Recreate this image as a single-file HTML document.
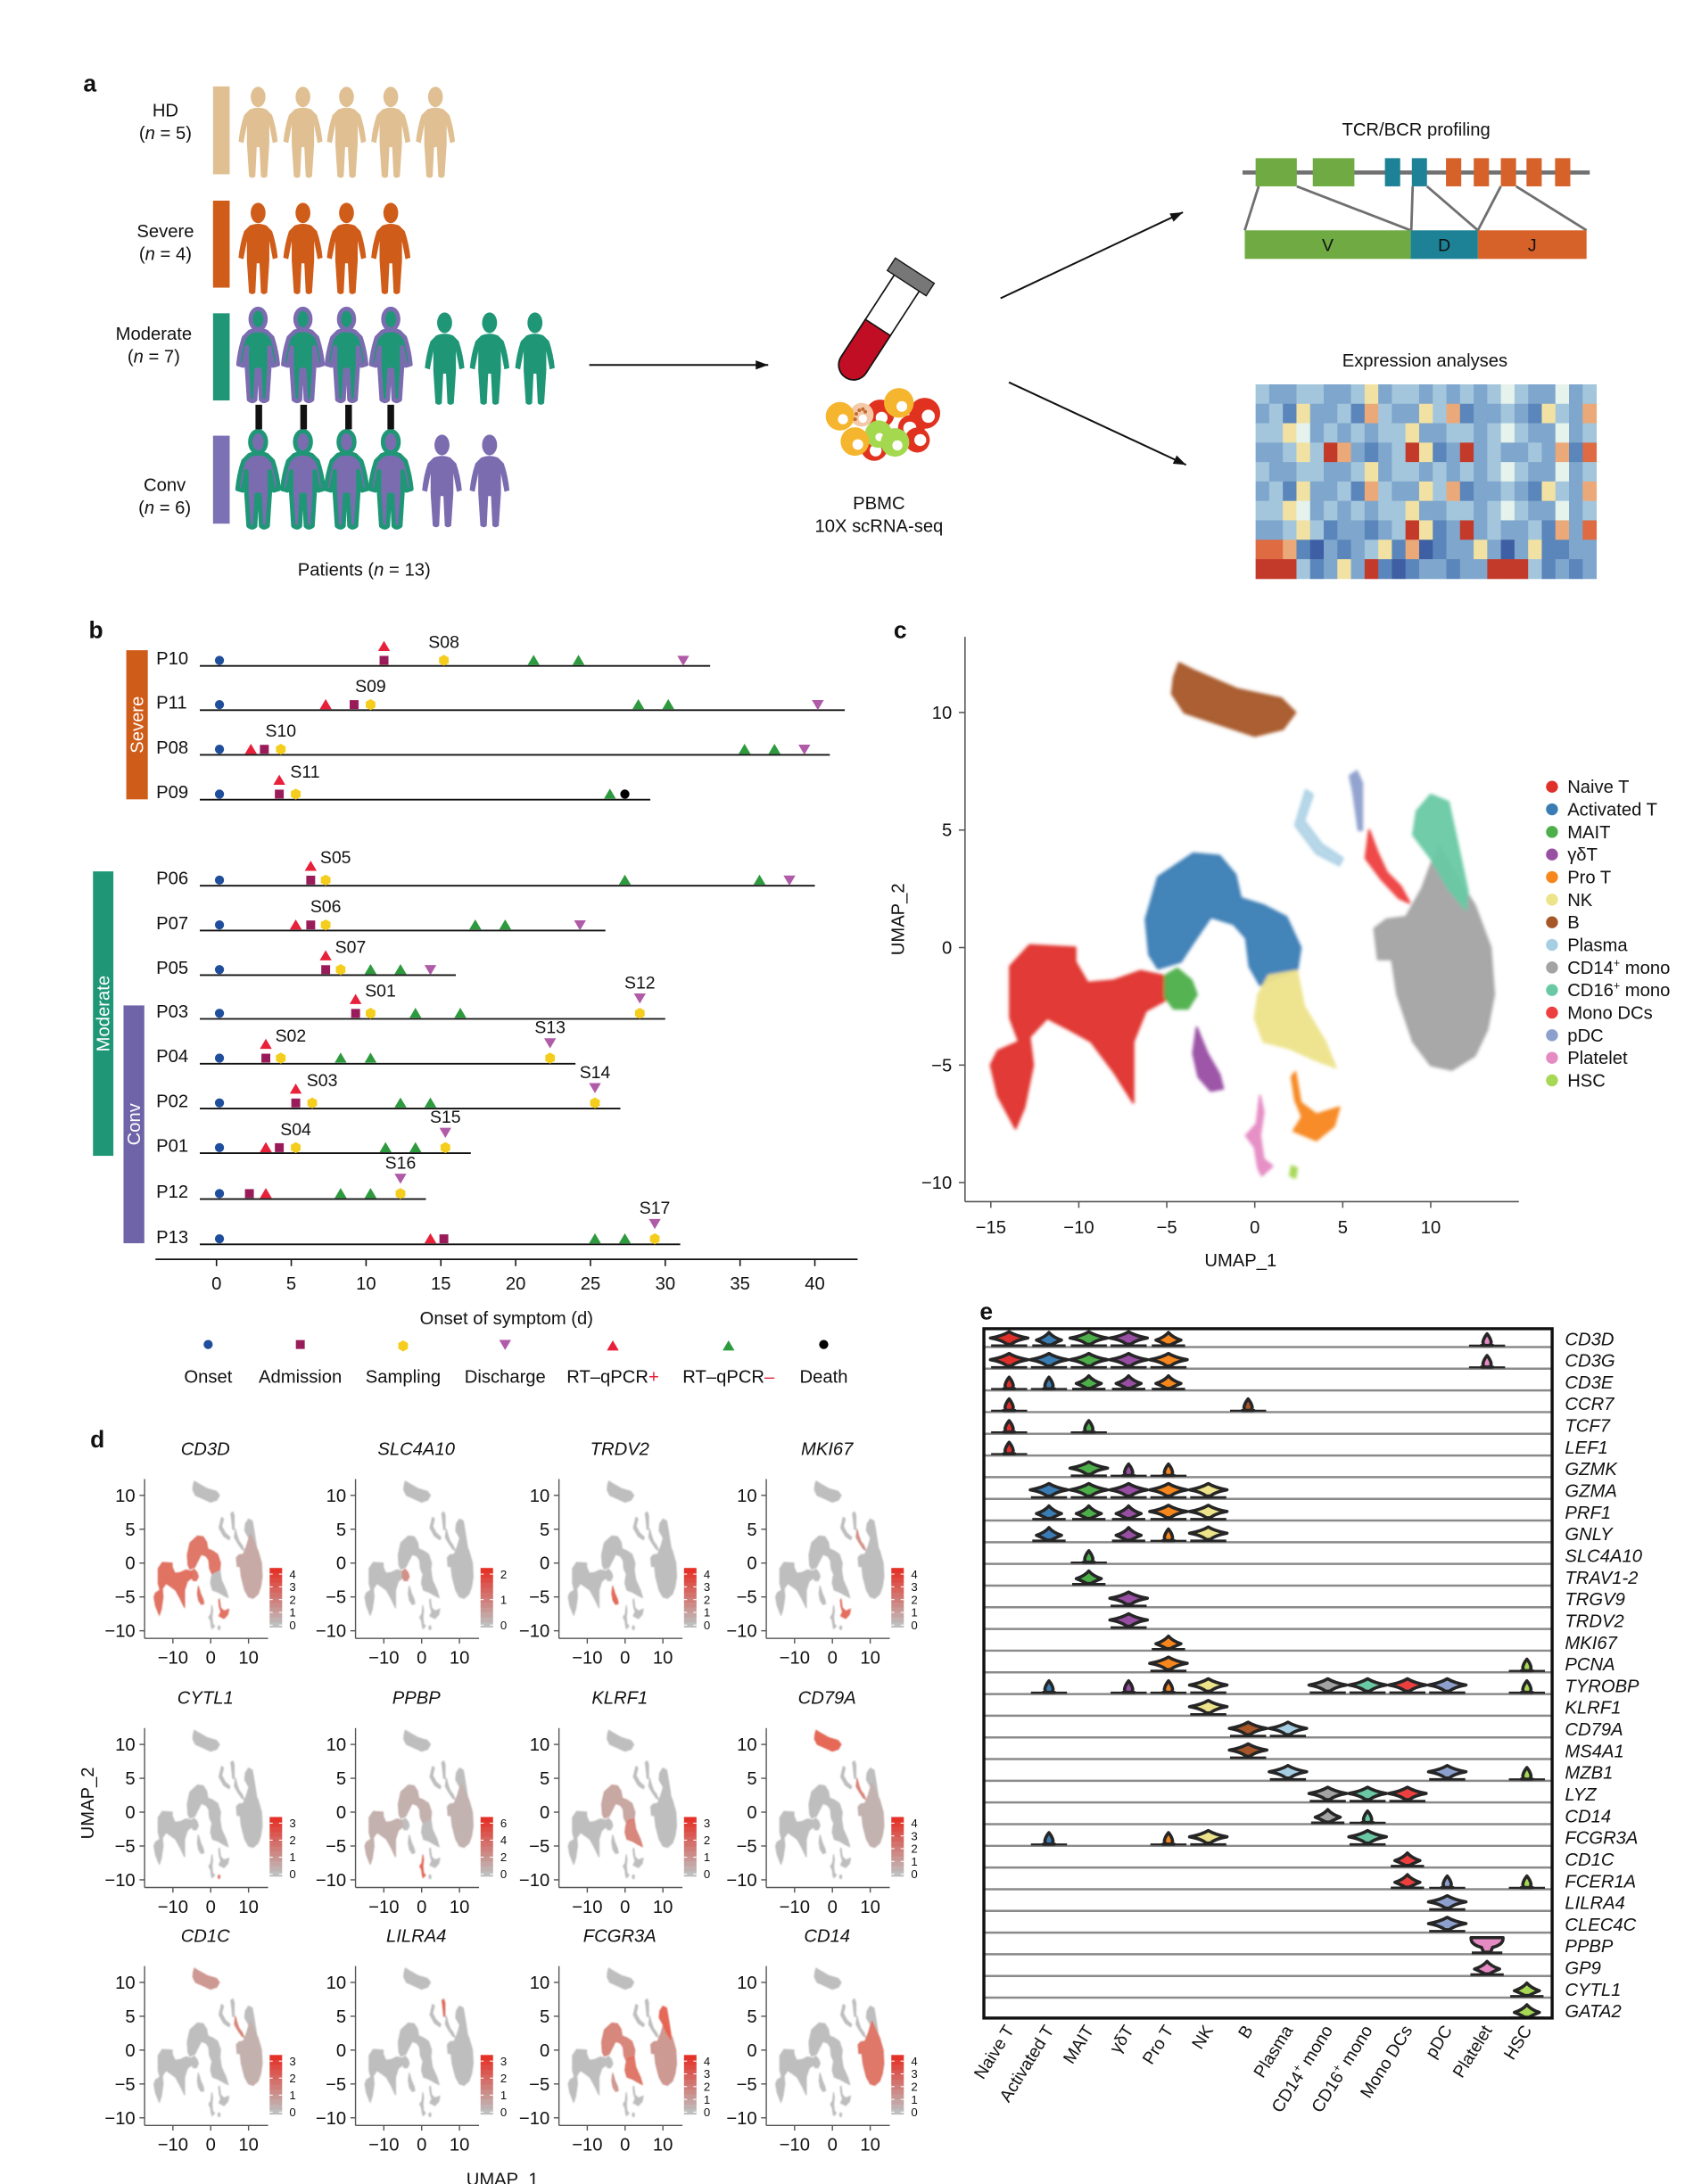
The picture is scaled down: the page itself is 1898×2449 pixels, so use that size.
<!DOCTYPE html>
<html><head><meta charset="utf-8">
<style>
html,body{margin:0;padding:0;background:#fff;}
svg{display:block;font-family:"Liberation Sans",Arial,sans-serif;}
</style></head>
<body>
<svg id="fig" xmlns="http://www.w3.org/2000/svg" width="1898" height="2449" viewBox="0 0 1220 1574" preserveAspectRatio="none">
<defs>
<filter id="fuzz" x="-10%" y="-10%" width="120%" height="120%"><feGaussianBlur stdDeviation="1.2"/></filter>
<filter id="fuzz2" x="-10%" y="-10%" width="120%" height="120%"><feGaussianBlur stdDeviation="0.5"/></filter>
</defs>
</svg>
<script>
// ================= DATA =================
// Panel a
const heatRows = [
"3223322352332323234322423",
"2315223163225361223215326",
"3354232323352233234322423",
"2235386212385128232232617",
"3223322352332323234322423",
"2315223163225361223215326",
"3354232323352233234322423",
"2235312212385128232231627",
"7761021235160122520251122",
"8883125281012212288831212"];
const heatPalette = ["#3f5fa5","#5b86bb","#7fa6cc","#a3c6dd","#e6f2ec","#f1e2a3","#eba979","#de6b42","#c33a2b"];

// Panel b
const patients = ["P10","P11","P08","P09","P06","P07","P05","P03","P04","P02","P01","P12","P13"];
const rowY = [479.9,511.8,544,576.3,638.3,670.6,702.8,734.3,766.6,798.9,831.1,864.2,896.8];
const lineEnd = [33,42,41,29,40,26,16,30,24,27,17,14,31];
const admission = [11.2,9.2,3.2,4.2,6.3,6.3,7.3,9.3,3.3,5.3,4.2,2.2,15.2];
const rtPos = [[11.2],[7.3],[2.3],[4.2],[6.3],[5.3],[7.3],[9.3],[3.3],[5.3],[3.3],[3.3],[14.3]];
const rtNeg = [[21.2,24.2],[28.2,30.2],[35.3,37.3],[26.3],[27.3,36.3],[17.3,19.3],[10.3,12.3],[13.3,16.3],[8.3,10.3],[12.3,14.3],[11.3,13.3],[8.3,10.3],[25.3,27.3]];
const discharge = [31.2,40.2,39.3,null,38.3,24.3,14.3,28.3,22.3,25.3,15.3,12.3,29.3];
const death = [null,null,null,27.3,null,null,null,null,null,null,null,null,null];
const sampling = [[15.2],[10.3],[4.3],[5.3],[7.3],[7.3],[8.3],[10.3,28.3],[4.3,22.3],[6.4,25.3],[5.3,15.3],[12.3],[29.3]];
const sampleLabels = [["S08"],["S09"],["S10"],["S11"],["S05"],["S06"],["S07"],["S01","S12"],["S02","S13"],["S03","S14"],["S04","S15"],["S16"],["S17"]];
const dayTicks = [0,5,10,15,20,25,30,35,40];

// Panel c / d clusters (UMAP coordinates)
const cellTypes = ["Naive T","Activated T","MAIT","γδT","Pro T","NK","B","Plasma","CD14⁺ mono","CD16⁺ mono","Mono DCs","pDC","Platelet","HSC"];
const typeColors = ["#e0302a","#3a7db5","#4daf4a","#984ea3","#f7861d","#ede38a","#a65628","#a6cee3","#a3a3a3","#69c9a4","#ee3f3f","#8d9fcc","#e58ac3","#a6d854"];
const clusterPolys = [
 [[-12.8,0.1],[-10.2,0.0],[-10.2,-0.6],[-9.5,-1.5],[-8,-1.4],[-6.5,-1],[-5.2,-1.2],[-5,-2.2],[-6.2,-2.7],[-6.9,-4],[-6.9,-6.6],[-8,-5.3],[-9.3,-4],[-10.5,-3.5],[-11.8,-3],[-12.8,-3.8],[-12.6,-5],[-13.1,-6.8],[-13.6,-7.7],[-14.6,-6.3],[-15,-5],[-14.6,-4.4],[-13.4,-4],[-13.9,-3],[-13.9,-0.8]],
 [[-6.2,1.2],[-5.5,3],[-3.5,4],[-2,3.9],[-1.1,3.1],[-0.8,2.1],[0.5,1.8],[1.8,1.3],[2.6,0],[2.4,-1],[1.2,-1.3],[0.3,-1.6],[-0.3,-0.8],[-0.5,0.4],[-1.2,1],[-2.5,1.3],[-3.5,0.2],[-4.2,-0.6],[-5.5,-0.9],[-6,-0.3]],
 [[-5.1,-1.2],[-4.4,-0.9],[-3.6,-1.4],[-3.3,-2],[-3.8,-2.6],[-4.6,-2.6],[-5.1,-2.1]],
 [[-3.3,-3.4],[-2.7,-4.5],[-2,-5.4],[-1.8,-6],[-2.5,-6.1],[-3.2,-5.5],[-3.5,-4.5]],
 [[2.3,-5.3],[2.6,-6.6],[3.5,-7.1],[4.8,-6.8],[4.5,-7.6],[3.5,-8.2],[2.2,-7.8],[2.7,-7.2],[2.3,-6.5],[2.1,-5.5]],
 [[0.8,-1.2],[2.4,-1],[2.8,-2.5],[4,-4],[4.6,-5.1],[3.5,-4.8],[2,-4.3],[0.5,-4],[0,-3],[0.2,-2]],
 [[-4.6,11.5],[-4.3,12.1],[-3.5,11.8],[-1,11],[1.5,10.6],[2.3,10],[1.6,9.3],[0,9],[-2,9.5],[-4,10],[-4.7,10.8]],
 [[2.9,6.7],[3.3,6.5],[2.8,5.4],[3.8,4.4],[5,3.8],[4.8,3.5],[3.5,4],[2.3,5.2]],
 [[10.5,4.3],[11.5,3],[12.5,1.8],[13.4,0],[13.6,-2],[13.2,-3.5],[12.5,-4.6],[11.2,-5.2],[10,-5],[9,-4],[8.1,-2],[7.8,-0.5],[7,-0.5],[6.8,0.8],[7.5,1.2],[8.6,1.3],[9.5,2.5],[10,3.5]],
 [[9.2,5.8],[10,6.5],[11,6.2],[11.5,4.5],[12.1,2.4],[12,1.6],[11,2.5],[10,3.8],[9,4.8]],
 [[6.5,5],[7,4],[7.5,3.2],[8.3,2.6],[8.8,1.9],[8.2,2.1],[7.2,2.9],[6.3,3.8]],
 [[5.4,7.3],[5.8,7.5],[6.1,7],[6.1,5],[5.9,5],[5.6,6.6]],
 [[0.3,-6.3],[0.1,-7.5],[-0.5,-8],[0,-8.5],[0.2,-9.4],[0.4,-9.7],[1,-9.3],[0.5,-9],[0.3,-8],[0.5,-7]],
 [[2.1,-9.3],[2.4,-9.4],[2.3,-9.8],[2.0,-9.7]]
];
const umapXTicks = [-15,-10,-5,0,5,10];
const umapYTicks = [-10,-5,0,5,10];

// Panel d
const dGenes = ["CD3D","SLC4A10","TRDV2","MKI67","CYTL1","PPBP","KLRF1","CD79A","CD1C","LILRA4","FCGR3A","CD14"];
const dScaleTicks = [[0,1,2,3,4],[0,1,2],[0,1,2,3,4],[0,1,2,3,4],[0,1,2,3],[0,2,4,6],[0,1,2,3],[0,1,2,3,4],[0,1,2,3],[0,1,2,3],[0,1,2,3,4],[0,1,2,3,4]];
const dExpr = [
 [[0,.75],[1,.7],[2,.7],[3,.7],[4,.75],[8,.2]],
 [[2,.45]],
 [[3,.85]],
 [[4,.8],[10,.4]],
 [[13,.9]],
 [[12,.85],[0,.12],[1,.12],[8,.1]],
 [[5,.55],[1,.22]],
 [[6,.85],[10,.55],[8,.1]],
 [[10,.55],[6,.35],[8,.12]],
 [[11,.9]],
 [[1,.55],[5,.7],[9,.85],[8,.35],[3,.35]],
 [[8,.7]]
];
const dTicks = [-10,0,10];
const dYTicks = [-10,-5,0,5,10];

// Panel e: violin levels (genes x cell types)
const eGenes = ["CD3D","CD3G","CD3E","CCR7","TCF7","LEF1","GZMK","GZMA","PRF1","GNLY","SLC4A10","TRAV1-2","TRGV9","TRDV2","MKI67","PCNA","TYROBP","KLRF1","CD79A","MS4A1","MZB1","LYZ","CD14","FCGR3A","CD1C","FCER1A","LILRA4","CLEC4C","PPBP","GP9","CYTL1","GATA2"];
const eLevels = [
 [3,2,3,3,2,0,0,0,0,0,0,0,1,0],
 [3,3,3,3,3,0,0,0,0,0,0,0,1,0],
 [1,1,2,2,2,0,0,0,0,0,0,0,0,0],
 [1,0,0,0,0,0,1,0,0,0,0,0,0,0],
 [1,0,1,0,0,0,0,0,0,0,0,0,0,0],
 [1,0,0,0,0,0,0,0,0,0,0,0,0,0],
 [0,0,3,1,1,0,0,0,0,0,0,0,0,0],
 [0,3,3,3,3,3,0,0,0,0,0,0,0,0],
 [0,2,2,2,3,3,0,0,0,0,0,0,0,0],
 [0,2,0,2,1,3,0,0,0,0,0,0,0,0],
 [0,0,1,0,0,0,0,0,0,0,0,0,0,0],
 [0,0,2,0,0,0,0,0,0,0,0,0,0,0],
 [0,0,0,3,0,0,0,0,0,0,0,0,0,0],
 [0,0,0,3,0,0,0,0,0,0,0,0,0,0],
 [0,0,0,0,2,0,0,0,0,0,0,0,0,0],
 [0,0,0,0,3,0,0,0,0,0,0,0,0,1],
 [0,1,0,1,1,3,0,0,3,3,3,3,0,1],
 [0,0,0,0,0,3,0,0,0,0,0,0,0,0],
 [0,0,0,0,0,0,3,3,0,0,0,0,0,0],
 [0,0,0,0,0,0,3,0,0,0,0,0,0,0],
 [0,0,0,0,0,0,0,3,0,0,0,3,0,1],
 [0,0,0,0,0,0,0,0,3,3,3,0,0,0],
 [0,0,0,0,0,0,0,0,2,1,0,0,0,0],
 [0,1,0,0,1,3,0,0,0,3,0,0,0,0],
 [0,0,0,0,0,0,0,0,0,0,2,0,0,0],
 [0,0,0,0,0,0,0,0,0,0,2,1,0,1],
 [0,0,0,0,0,0,0,0,0,0,0,3,0,0],
 [0,0,0,0,0,0,0,0,0,0,0,3,0,0],
 [0,0,0,0,0,0,0,0,0,0,0,0,4,0],
 [0,0,0,0,0,0,0,0,0,0,0,0,2,0],
 [0,0,0,0,0,0,0,0,0,0,0,0,0,2],
 [0,0,0,0,0,0,0,0,0,0,0,0,0,2]
];

// ================= HELPERS =================
const NS = "http://www.w3.org/2000/svg";
const svg = document.getElementById("fig");
function mk(tag, attrs, parent) {
  const e = document.createElementNS(NS, tag);
  for (const k in attrs) e.setAttribute(k, attrs[k]);
  (parent || svg).appendChild(e);
  return e;
}
function tx(str, x, y, attrs, parent) {
  const e = mk("text", Object.assign({x: x, y: y, "font-size": 13, fill: "#111"}, attrs || {}), parent);
  e.textContent = str;
  return e;
}
function fmt(v) { return v < 0 ? "\u2212" + Math.abs(v) : String(v); }

// ================= PANEL A =================
const gA = mk("g", {});


let t = tx("a", 60, 66, {"font-size": 17, "font-weight": "bold"}, gA);



const bodyPath = "M9,17 Q15,14.5 21,17 L25,21 Q28,30 29,40 L25.5,41 L23,28 L23,42 L21.5,65 Q19,67 17,65 L16,44 L14,44 L13,65 Q11,67 8.5,65 L7,42 L7,28 L4.5,41 L1,40 Q2,30 5,21 Z";
function person(parent, cx, top, h, fill, stroke) {
  const s = h / 66;
  const g = mk("g", {transform: "translate(" + (cx - 15 * s) + "," + top + ") scale(" + s + ")"}, parent);
  
  
  const sw = stroke ? 3 : 0;
  mk("ellipse", {cx: 15, cy: 8, rx: 5.3, ry: 7.3, fill: fill, stroke: stroke || "none", "stroke-width": sw}, g);
  mk("path", {d: bodyPath, fill: fill, stroke: stroke || "none", "stroke-width": sw, "stroke-linejoin": "round"}, g);
}
const groupsA = [
  {name: "HD", n: "5", col: "#e0c092", y0: 62.3, y1: 125.6, lx: 119.2, ly: 79.4},
  {name: "Severe", n: "4", col: "#cf5c18", y0: 144.6, y1: 207.3, lx: 119.2, ly: 166.5},
  {name: "Moderate", n: "7", col: "#1f9777", y0: 225.8, y1: 288.6, lx: 110.8, ly: 240.3},
  {name: "Conv", n: "6", col: "#7b71b4", y0: 314, y1: 377.4, lx: 118.7, ly: 349.2}
];
groupsA.forEach(function (g) {
  const b = mk("rect", {x: 153.5, y: g.y0, width: 12, height: g.y1 - g.y0, fill: g.col}, gA);
  
  
  const l = tx(g.name, g.lx, g.ly + 4.5, {"text-anchor": "middle", "font-size": 13}, gA);
  
  
  const l2 = mk("text", {x: g.lx, y: g.ly + 21, "text-anchor": "middle", "font-size": 13, fill: "#111"}, gA);
  l2.innerHTML = '(<tspan font-style="italic">n</tspan> = ' + g.n + ')';
  
  
});
const cx4 = [186, 218.3, 249.7, 281.6];
[186, 218.3, 249.7, 281.6, 313.8].forEach(function (c) { person(gA, c, 61.8, 66.4, "#e0c092", null); });
cx4.forEach(function (c) { person(gA, c, 145.4, 66.6, "#cf5c18", null); });
cx4.forEach(function (c) { person(gA, c, 221.8, 67.2, "#1f9777", "#7b6cb0"); });
[320.4, 352.8, 385.5].forEach(function (c) { person(gA, c, 224.5, 67.2, "#1f9777", null); });
cx4.forEach(function (c) { person(gA, c, 310, 70, "#7b6cb0", "#1f9777"); });
[318.5, 352.8].forEach(function (c) { person(gA, c, 312.5, 67.5, "#7b6cb0", null); });
[186.5, 218.8, 251.2, 281.6].forEach(function (c) {
  const r = mk("rect", {x: c - 2.4, y: 291.7, width: 4.8, height: 17.7, fill: "#111"}, gA);
  
  
});
t = mk("text", {x: 262.4, y: 414.8, "text-anchor": "middle", "font-size": 13, fill: "#111"}, gA);
t.innerHTML = 'Patients (<tspan font-style="italic">n</tspan> = 13)';



function arrow(parent, x1, y1, x2, y2, name) {
  const g = mk("g", {}, parent);
  
  
  mk("line", {x1: x1, y1: y1, x2: x2, y2: y2, stroke: "#111", "stroke-width": 1.3}, g);
  const a = Math.atan2(y2 - y1, x2 - x1), L = 9, w = 3.3;
  const bx = x2 - L * Math.cos(a), by = y2 - L * Math.sin(a);
  mk("polygon", {points: x2 + "," + y2 + " " + (bx - w * Math.sin(a)) + "," + (by + w * Math.cos(a)) + " " + (bx + w * Math.sin(a)) + "," + (by - w * Math.cos(a)), fill: "#111"}, g);
}
arrow(gA, 424.6, 263, 553.6, 263, "arrow-to-pbmc");
arrow(gA, 721, 215, 852.4, 153, "arrow-to-tcr");
arrow(gA, 727, 275.5, 854.7, 335, "arrow-to-expression");

// tube and cells
const gT = mk("g", {transform: "translate(565.66,167.13) scale(0.2143)"}, gA);


const tube = mk("g", {transform: "translate(307,330) rotate(33)"}, gT);
mk("path", {d: "M-50,-190 L-50,140 A50,50 0 0 0 50,140 L50,-190", fill: "#fff", stroke: "#111", "stroke-width": 5}, tube);
mk("path", {d: "M-50,-10 L50,-10 L50,140 A50,50 0 0 1 -50,140 Z", fill: "#c20e24", stroke: "#111", "stroke-width": 5}, tube);
mk("rect", {x: -78, y: -238, width: 156, height: 50, fill: "#777", stroke: "#111", "stroke-width": 4}, tube);
const cells = [
  [320,612,48,"#e0321e",325,625,20],[470,610,52,"#e0321e",482,620,22],[425,660,45,"#e0321e",420,660,22],
  [445,700,42,"#e0321e",455,700,20],[300,725,45,"#e0321e",305,735,20],[258,615,40,"#f4c9a8",262,628,14],
  [185,620,48,"#f5b52e",195,630,17],[383,575,50,"#f5b52e",393,587,18],[315,680,46,"#a4d84e",318,690,14],
  [235,705,48,"#f5b52e",245,715,18],[370,708,48,"#a4d84e",378,718,17]
];
cells.forEach(function (c) {
  mk("circle", {cx: c[0], cy: c[1], r: c[2], fill: c[3]}, gT);
  mk("circle", {cx: c[4], cy: c[5], r: c[6], fill: "#fff"}, gT);
});
[[240,612],[250,600],[262,596],[236,630],[270,605]].forEach(function (d) { mk("circle", {cx: d[0], cy: d[1], r: 6, fill: "#c46a32"}, gT); });
t = tx("PBMC", 633.4, 367, {"text-anchor": "middle"}, gA);


t = tx("10X scRNA-seq", 633.4, 383.5, {"text-anchor": "middle"}, gA);



// TCR/BCR
const gTcr = mk("g", {}, gA);


t = tx("TCR/BCR profiling", 1020.5, 97.8, {"text-anchor": "middle"}, gTcr);


mk("line", {x1: 895.4, y1: 124.3, x2: 1145.6, y2: 124.3, stroke: "#707070", "stroke-width": 3}, gTcr);
[[904.8,934.5,"#6fab42"],[946,976,"#6fab42"],[998,1009,"#1d8296"],[1017.4,1028.3,"#1d8296"],[1042,1053,"#d6622a"],[1062,1073,"#d6622a"],[1081.5,1092.5,"#d6622a"],[1100,1111,"#d6622a"],[1120.6,1131.6,"#d6622a"]].forEach(function (b) {
  const r = mk("rect", {x: b[0], y: 114, width: b[1] - b[0], height: 20.3, fill: b[2]}, gTcr);
  
  
});
[[907,134.3,897,166],[934.5,134.3,1016.6,166],[1018,134.3,1017,166],[1028.3,134.3,1065,166],[1081.5,134.3,1065,166],[1092.5,134.3,1143.3,166]].forEach(function (l) {
  mk("line", {x1: l[0], y1: l[1], x2: l[2], y2: l[3], stroke: "#707070", "stroke-width": 1.8}, gTcr);
});
[[897,1016.6,"#6fab42","V"],[1016.6,1065,"#1d8296","D"],[1065,1143.3,"#d6622a","J"]].forEach(function (b) {
  const r = mk("rect", {x: b[0], y: 166, width: b[1] - b[0], height: 20.6, fill: b[2]}, gTcr);
  
  
  tx(b[3], (b[0] + b[1]) / 2, 181, {"text-anchor": "middle", "font-size": 12.5}, gTcr);
});

// heatmap
const gH = mk("g", {}, gA);


t = tx("Expression analyses", 1026.8, 264, {"text-anchor": "middle"}, gA);


const hx0 = 904.8, hx1 = 1150.3, hy0 = 277, hy1 = 417;
const ncol = heatRows[0].length, cw = (hx1 - hx0) / ncol, rh = (hy1 - hy0) / heatRows.length;
heatRows.forEach(function (row, i) {
  for (let j = 0; j < row.length; j++) {
    const r = mk("rect", {x: hx0 + j * cw, y: hy0 + i * rh, width: cw + 0.3, height: rh + 0.3, fill: heatPalette[+row[j]]}, gH);
    
    
  }
});

// ================= PANEL B =================
const gB = mk("g", {});


t = tx("b", 64, 460, {"font-size": 17, "font-weight": "bold"}, gB);


const bx = function (d) { return 156 + d * 10.78; };
const C = {onset: "#1f4e9c", adm: "#9a1b5a", samp: "#f5cd1c", dis: "#b05ba8", pos: "#e8203a", neg: "#2e9a3e", death: "#000"};
function mOnset(x, y, p) { return mk("circle", {cx: x, cy: y, r: 3.3, fill: C.onset}, p); }
function mAdm(x, y, p) { return mk("rect", {x: x - 3.2, y: y - 3.2, width: 6.4, height: 6.4, fill: C.adm}, p); }
function mSamp(x, y, p) {
  let pts = [];
  for (let k = 0; k < 6; k++) { const a = Math.PI / 6 + k * Math.PI / 3; pts.push((x + 4 * Math.cos(a)) + "," + (y + 4 * Math.sin(a))); }
  return mk("polygon", {points: pts.join(" "), fill: C.samp}, p);
}
function mUp(x, y, col, p) { return mk("polygon", {points: x + "," + (y - 4) + " " + (x + 4.3) + "," + (y + 3.3) + " " + (x - 4.3) + "," + (y + 3.3), fill: col}, p); }
function mDown(x, y, p) { return mk("polygon", {points: x + "," + (y + 4) + " " + (x + 4.3) + "," + (y - 3.3) + " " + (x - 4.3) + "," + (y - 3.3), fill: C.dis}, p); }

[[91,468.6,15.5,107.5,"#cf5c18","Severe"],[67,628,14.7,205,"#1f9777","Moderate"],[89,724.6,15,171.4,"#7064a8","Conv"]].forEach(function (g) {
  const r = mk("rect", {x: g[0], y: g[1], width: g[2], height: g[3], fill: g[4]}, gB);
  
  
  const cxg = g[0] + g[2] / 2 + 4.5, cyg = g[1] + g[3] / 2;
  const l = tx(g[5], cxg, cyg, {"text-anchor": "middle", fill: "#fff", "font-size": 13, transform: "rotate(-90 " + cxg + " " + cyg + ")"}, gB);
  
  
});

patients.forEach(function (p, i) {
  const y = rowY[i], my = y - 4;
  const g = mk("g", {}, gB);
  
  
  tx(p, 112.6, y - 1, {"font-size": 13}, g);
  mk("line", {x1: 144, y1: y, x2: bx(lineEnd[i]), y2: y, stroke: "#111", "stroke-width": 1.2}, g);
  let e = mOnset(bx(0.2), my, g);
  
  
  e = mAdm(bx(admission[i]), my, g);
  
  
  rtPos[i].forEach(function (d) {
    const stacked = Math.abs(d - admission[i]) < 0.3;
    const m = mUp(bx(d), stacked ? my - 10 : my, C.pos, g);
    
    
  });
  rtNeg[i].forEach(function (d) {
    const m = mUp(bx(d), my, C.neg, g);
    
    
  });
  sampling[i].forEach(function (d, k) {
    const m = mSamp(bx(d), my, g);
    
    
    const withDis = discharge[i] !== null && Math.abs(discharge[i] - d) < 0.5;
    const rtStack = rtPos[i].some(function (r) { return Math.abs(r - admission[i]) < 0.3 && Math.abs(bx(r) - bx(d)) < 15; });
    const ly = withDis ? y - 22 : (rtStack ? y - 16 : y - 13);
    const l = tx(sampleLabels[i][k], rtStack ? bx(d) - 4 : bx(d), ly, {"text-anchor": rtStack ? "start" : "middle", "font-size": 12.5}, g);
    
    
  });
  if (discharge[i] !== null) {
    const withSamp = sampling[i].some(function (d) { return Math.abs(discharge[i] - d) < 0.5; });
    const m = mDown(bx(discharge[i]), withSamp ? my - 11 : my, g);
    
    
  }
  if (death[i] !== null) {
    const m = mk("circle", {cx: bx(death[i]), cy: my, r: 3.3, fill: C.death}, g);
    
    
  }
});
const gBx = mk("g", {}, gB);


mk("line", {x1: 112, y1: 907.6, x2: 618, y2: 907.6, stroke: "#111", "stroke-width": 1.1}, gBx);
dayTicks.forEach(function (d) {
  mk("line", {x1: bx(d), y1: 907.6, x2: bx(d), y2: 912.5, stroke: "#111", "stroke-width": 1}, gBx);
  tx(String(d), bx(d), 929.5, {"text-anchor": "middle", "font-size": 13}, gBx);
});
t = tx("Onset of symptom (d)", 365, 954.5, {"text-anchor": "middle", "font-size": 13}, gB);


const legB = [["Onset",150,"onset"],["Admission",216.4,"adm"],["Sampling",290.5,"samp"],["Discharge",364,"dis"],["RT–qPCR",441.6,"pos"],["RT–qPCR",525,"neg"],["Death",593.6,"death"]];
legB.forEach(function (l) {
  const g = mk("g", {}, gB);
  
  
  const x = l[1], y = 969;
  if (l[2] === "onset") mOnset(x, y, g);
  if (l[2] === "adm") mAdm(x, y, g);
  if (l[2] === "samp") mSamp(x, y + 1, g);
  if (l[2] === "dis") mDown(x, y, g);
  if (l[2] === "pos") mUp(x, y + 1, C.pos, g);
  if (l[2] === "neg") mUp(x, y + 1, C.neg, g);
  if (l[2] === "death") mk("circle", {cx: x, cy: y, r: 3.3, fill: "#000"}, g);
  const tt = mk("text", {x: x, y: 996.5, "text-anchor": "middle", "font-size": 13, fill: "#111"}, g);
  if (l[2] === "pos") tt.innerHTML = 'RT–qPCR<tspan fill="#e8203a">+</tspan>';
  else if (l[2] === "neg") tt.innerHTML = 'RT–qPCR<tspan fill="#e8203a">–</tspan>';
  else tt.textContent = l[0];
});

// ================= PANEL C =================
const gC = mk("g", {});


t = tx("c", 644, 460, {"font-size": 17, "font-weight": "bold"}, gC);


const cX = function (u) { return 904.2 + u * 12.68; };
const cY = function (v) { return 682.9 - v * 16.94; };
function polyPts(poly, fx, fy) { return poly.map(function (p) { return fx(p[0]).toFixed(1) + "," + fy(p[1]).toFixed(1); }).join(" "); }
const gCl = mk("g", {filter: "url(#fuzz)"}, gC);


const drawOrder = [8,9,10,11,7,6,0,1,2,3,5,4,12,13];
drawOrder.forEach(function (i) {
  const p = mk("polygon", {points: polyPts(clusterPolys[i], cX, cY), fill: typeColors[i], stroke: typeColors[i], "stroke-width": i === 7 ? 1.5 : 1.5, "stroke-linejoin": "round", "fill-opacity": i === 7 ? 0.8 : 0.95}, gCl);
  
  
});
const gCa = mk("g", {}, gC);


mk("line", {x1: 695.4, y1: 459, x2: 695.4, y2: 866, stroke: "#555", "stroke-width": 1}, gCa);
mk("line", {x1: 695.4, y1: 866, x2: 1094.5, y2: 866, stroke: "#555", "stroke-width": 1}, gCa);
umapXTicks.forEach(function (u) {
  mk("line", {x1: cX(u), y1: 866, x2: cX(u), y2: 870.5, stroke: "#555", "stroke-width": 1}, gCa);
  tx(fmt(u), cX(u), 889, {"text-anchor": "middle", "font-size": 13}, gCa);
});
umapYTicks.forEach(function (v) {
  mk("line", {x1: 691, y1: cY(v), x2: 695.4, y2: cY(v), stroke: "#555", "stroke-width": 1}, gCa);
  tx(fmt(v), 686, cY(v) + 4.5, {"text-anchor": "end", "font-size": 13}, gCa);
});
t = tx("UMAP_1", 894, 912.5, {"text-anchor": "middle", "font-size": 13}, gC);


t = tx("UMAP_2", 651.5, 662.5, {"text-anchor": "middle", "font-size": 13, transform: "rotate(-90 651.5 662.5)"}, gC);


cellTypes.forEach(function (n, i) {
  const g = mk("g", {}, gC);
  
  
  const y = 567 + i * 16.28;
  mk("circle", {cx: 1118.4, cy: y, r: 4.3, fill: typeColors[i]}, g);
  const tt = mk("text", {x: 1129.5, y: y + 4.5, "font-size": 13, fill: "#111"}, g);
  if (n.indexOf("⁺") >= 0) tt.innerHTML = n.replace("⁺", '<tspan dy="-5" font-size="8">+</tspan><tspan dy="5"> </tspan>').replace("</tspan> mono", "</tspan>mono");
  else tt.textContent = n;
});

// ================= PANEL D =================
const gD = mk("g", {});


t = tx("d", 65, 1043, {"font-size": 17, "font-weight": "bold"}, gD);


const colOff = [0, 152, 298.6, 448];
const rowOff = [0, 179.5, 351];
dGenes.forEach(function (gene, gi) {
  const ox = colOff[gi % 4], oy = rowOff[Math.floor(gi / 4)];
  const sub = mk("g", {transform: "translate(" + ox + "," + oy + ")"}, gD);
  
  
  const fx = function (u) { return 151.85 + u * 2.725; };
  const fy = function (v) { return 1126.5 - v * 4.88; };
  const tl = tx(gene, 148, 1048.5, {"text-anchor": "middle", "font-size": 13, "font-style": "italic"}, sub);
  
  
  const gg = mk("g", {filter: "url(#fuzz2)"}, sub);
  clusterPolys.forEach(function (poly, ci) {
    mk("polygon", {points: polyPts(poly, fx, fy), fill: "#bebebe", stroke: "#bebebe", "stroke-width": ci === 7 || ci === 11 || ci === 13 ? 1.2 : 0.8, "stroke-linejoin": "round"}, gg);
  });
  dExpr[gi].forEach(function (ex) {
    const p = mk("polygon", {points: polyPts(clusterPolys[ex[0]], fx, fy), fill: "#ec5a45", "fill-opacity": ex[1], stroke: "#ec5a45", "stroke-opacity": ex[1], "stroke-width": 0.6}, gg);
    
    
  });
  mk("line", {x1: 104.2, y1: 1065.9, x2: 104.2, y2: 1180.8, stroke: "#555", "stroke-width": 0.9}, sub);
  mk("line", {x1: 104.2, y1: 1180.8, x2: 193.2, y2: 1180.8, stroke: "#555", "stroke-width": 0.9}, sub);
  dTicks.forEach(function (u) {
    mk("line", {x1: fx(u), y1: 1180.8, x2: fx(u), y2: 1184.5, stroke: "#555", "stroke-width": 0.9}, sub);
    tx(fmt(u), fx(u), 1199, {"text-anchor": "middle", "font-size": 13}, sub);
  });
  dYTicks.forEach(function (v) {
    mk("line", {x1: 100.5, y1: fy(v), x2: 104.2, y2: fy(v), stroke: "#555", "stroke-width": 0.9}, sub);
    tx(fmt(v), 97.5, fy(v) + 4.5, {"text-anchor": "end", "font-size": 13}, sub);
  });
  const cb = mk("g", {}, sub);
  
  
  const nseg = 12, cy0 = 1130, cy1 = 1172.7;
  for (let k = 0; k < nseg; k++) {
    const f = k / (nseg - 1);
    const r = Math.round(190 + (228 - 190) * (1 - f)), gr = Math.round(190 - (190 - 50) * (1 - f)), b = Math.round(190 - (190 - 40) * (1 - f));
    mk("rect", {x: 194.3, y: cy0 + k * (cy1 - cy0) / nseg, width: 9, height: (cy1 - cy0) / nseg + 0.3, fill: "rgb(" + r + "," + gr + "," + b + ")"}, cb);
  }
  const tk = dScaleTicks[gi], mx = tk[tk.length - 1] * 1.08;
  tk.forEach(function (v) {
    const yy = cy1 - 1.5 - (v / mx) * (cy1 - cy0 - 3);
    mk("line", {x1: 194.3, y1: yy, x2: 196.5, y2: yy, stroke: "#fff", "stroke-width": 0.7}, cb);
    mk("line", {x1: 201, y1: yy, x2: 203.3, y2: yy, stroke: "#fff", "stroke-width": 0.7}, cb);
    tx(String(v), 208.5, yy + 3, {"font-size": 8.5}, cb);
  });
});
t = tx("UMAP_2", 67.5, 1299.5, {"text-anchor": "middle", "font-size": 13, transform: "rotate(-90 67.5 1299.5)"}, gD);


t = tx("UMAP_1", 362, 1575, {"text-anchor": "middle", "font-size": 13}, gD);



// ================= PANEL E =================
const gE = mk("g", {});


t = tx("e", 706, 951, {"font-size": 17, "font-weight": "bold"}, gE);


const ex0 = 709, ex1 = 1118.5, ey0 = 957.6, ey1 = 1454.4;
const eColX = function (j) { return 727.2 + j * 28.7; };
const eRowBase = function (i) { return 970.8 + i * 15.63; };
for (let i = 0; i < eGenes.length - 1; i++) {
  const l = mk("line", {x1: ex0, y1: eRowBase(i), x2: ex1, y2: eRowBase(i), stroke: "#8a8a8a", "stroke-width": 1.6}, gE);
  
  
}
function violin(parent, cx, b, lvl, col) {
  const g = mk("g", {}, parent);
  
  
  const st = {stroke: "#262626", "stroke-width": 2.3, "stroke-linejoin": "round", fill: col};
  let d;
  if (lvl === 3) {
    mk("line", {x1: cx - 13, y1: b - 1, x2: cx + 13, y2: b - 1, stroke: "#262626", "stroke-width": 1.8}, g);
    d = "M" + (cx - 13.5) + "," + (b - 6.5) + " Q" + (cx - 5) + "," + (b - 8) + " " + cx + "," + (b - 11) + " Q" + (cx + 5) + "," + (b - 8) + " " + (cx + 13.5) + "," + (b - 6.5) + " Q" + (cx + 5) + "," + (b - 5) + " " + (cx + 1.5) + "," + (b - 2) + " L" + (cx - 1.5) + "," + (b - 2) + " Q" + (cx - 5) + "," + (b - 5) + " " + (cx - 13.5) + "," + (b - 6.5) + " Z";
  } else if (lvl === 2) {
    mk("line", {x1: cx - 12, y1: b - 1, x2: cx + 12, y2: b - 1, stroke: "#262626", "stroke-width": 1.8}, g);
    d = "M" + (cx - 9) + "," + (b - 5) + " Q" + (cx - 3) + "," + (b - 7) + " " + cx + "," + (b - 10.5) + " Q" + (cx + 3) + "," + (b - 7) + " " + (cx + 9) + "," + (b - 5) + " Q" + (cx + 4) + "," + (b - 3) + " " + (cx + 1.5) + "," + (b - 1.5) + " L" + (cx - 1.5) + "," + (b - 1.5) + " Q" + (cx - 4) + "," + (b - 3) + " " + (cx - 9) + "," + (b - 5) + " Z";
  } else if (lvl === 1) {
    mk("line", {x1: cx - 13, y1: b - 1, x2: cx + 13, y2: b - 1, stroke: "#262626", "stroke-width": 1.5}, g);
    d = "M" + (cx - 3) + "," + (b - 3.5) + " Q" + (cx - 2.5) + "," + (b - 6.5) + " " + cx + "," + (b - 9.5) + " Q" + (cx + 2.5) + "," + (b - 6.5) + " " + (cx + 3) + "," + (b - 3.5) + " Q" + (cx + 2) + "," + (b - 1.5) + " " + (cx + 4) + "," + (b - 1.2) + " L" + (cx - 4) + "," + (b - 1.2) + " Q" + (cx - 2) + "," + (b - 1.5) + " " + (cx - 3) + "," + (b - 3.5) + " Z";
  } else {
    mk("line", {x1: cx - 11, y1: b - 1, x2: cx + 11, y2: b - 1, stroke: "#262626", "stroke-width": 2}, g);
    d = "M" + (cx - 11.5) + "," + (b - 12) + " L" + (cx + 11.5) + "," + (b - 12) + " Q" + (cx + 12) + "," + (b - 7) + " " + (cx + 4) + "," + (b - 5) + " L" + (cx + 2.5) + "," + (b - 1.5) + " L" + (cx - 2.5) + "," + (b - 1.5) + " L" + (cx - 4) + "," + (b - 5) + " Q" + (cx - 12) + "," + (b - 7) + " " + (cx - 11.5) + "," + (b - 12) + " Z";
  }
  mk("path", Object.assign({d: d}, st), g);
}
eLevels.forEach(function (row, i) {
  row.forEach(function (lvl, j) {
    if (lvl > 0) violin(gE, eColX(j), eRowBase(i), lvl, typeColors[j]);
  });
});
const fr = mk("rect", {x: ex0, y: ey0, width: ex1 - ex0, height: ey1 - ey0, fill: "none", stroke: "#111", "stroke-width": 2.2}, gE);


eGenes.forEach(function (gname, i) {
  const l = tx(gname, 1127.7, 964.9 + i * 15.63 + 4.5, {"font-size": 13, "font-style": "italic"}, gE);
  
  
});
cellTypes.forEach(function (n, j) {
  const x = eColX(j) + 4, y = 1463;
  const l = mk("text", {x: x, y: y, "text-anchor": "end", "font-size": 12.5, fill: "#111", transform: "rotate(-58 " + x + " " + y + ")"}, gE);
  if (n.indexOf("⁺") >= 0) l.innerHTML = n.replace("⁺", '<tspan dy="-5" font-size="8">+</tspan><tspan dy="5"> </tspan>').replace("</tspan> mono", "</tspan>mono");
  else l.textContent = n;
  
  
});
</script>
</body></html>
